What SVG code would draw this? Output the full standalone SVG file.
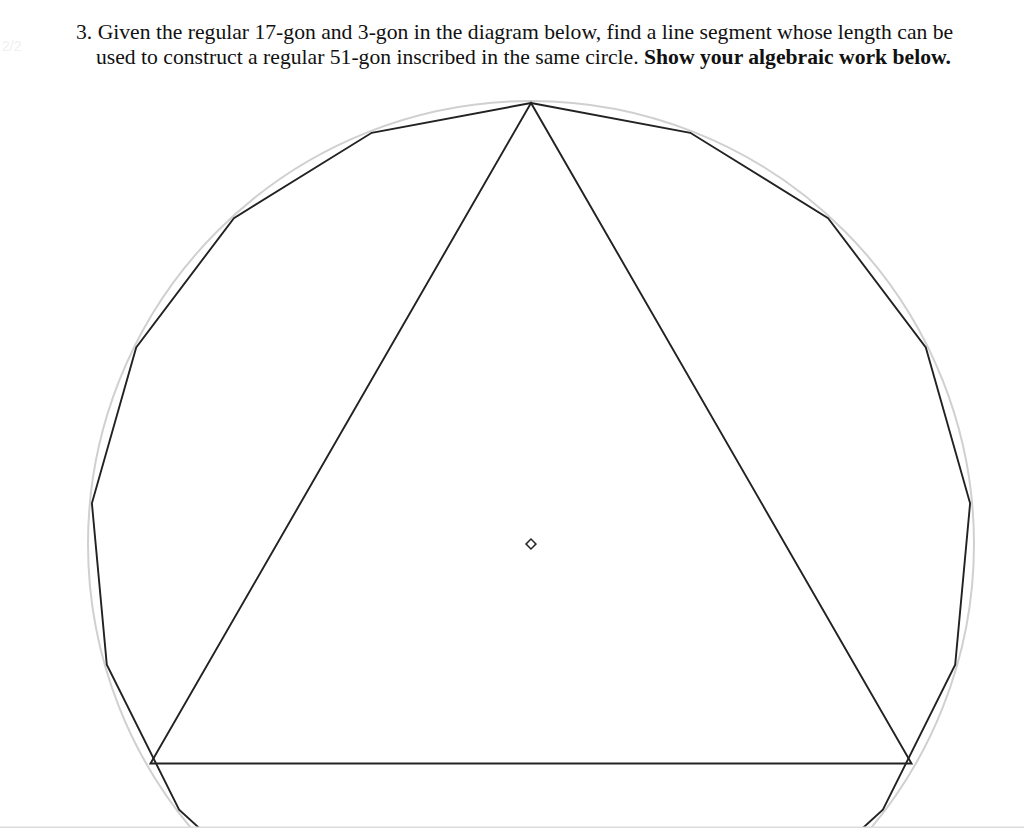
<svg xmlns="http://www.w3.org/2000/svg" width="1024" height="828" viewBox="0 0 1024 828">
<style>
.t{font-family:"Liberation Serif","Times New Roman",serif;font-size:21.65px;fill:#111}
.b{font-weight:bold}
.poly{fill:none;stroke:#222;stroke-width:1.9;stroke-linejoin:miter}
</style>
<rect x="0" y="0" width="1024" height="828" fill="#fff"/>
<text x="2" y="51" font-family="Liberation Sans, Arial, sans-serif" font-size="14" fill="#f0f0f0">2/2</text>
<g id="question">
<text class="t" x="76" y="39">3. Given the regular 17-gon and 3-gon in the diagram below, find a line segment whose length can be</text>
<text class="t" x="96" y="64">used to construct a regular 51-gon inscribed in the same circle. <tspan class="b">Show your algebraic work below.</tspan></text>
</g>
<g id="circle"><circle cx="531" cy="544" r="443" fill="none" stroke="#d0d0d0" stroke-width="2"/></g>
<g id="heptadecagon"><polygon class="poly" points="531,103 690.3,132.8 828.1,218.1 925.8,347.4 970.1,503.3 955.2,664.7 882.9,809.7 763.1,918.9 612,977.5 450,977.5 298.9,918.9 179.1,809.7 106.8,664.7 91.9,503.3 136.2,347.4 233.9,218.1 371.7,132.8"/></g>
<g id="triangle"><polygon class="poly" points="531,103 150.5,763.5 911.5,763.5"/></g>
<g id="center"><rect x="527.5" y="540.5" width="7" height="7" transform="rotate(45 531 544)" fill="#fff" stroke="#222" stroke-width="1.5"/></g>
<rect x="0" y="826.5" width="1024" height="1.5" fill="#dcdcdc"/>
</svg>
